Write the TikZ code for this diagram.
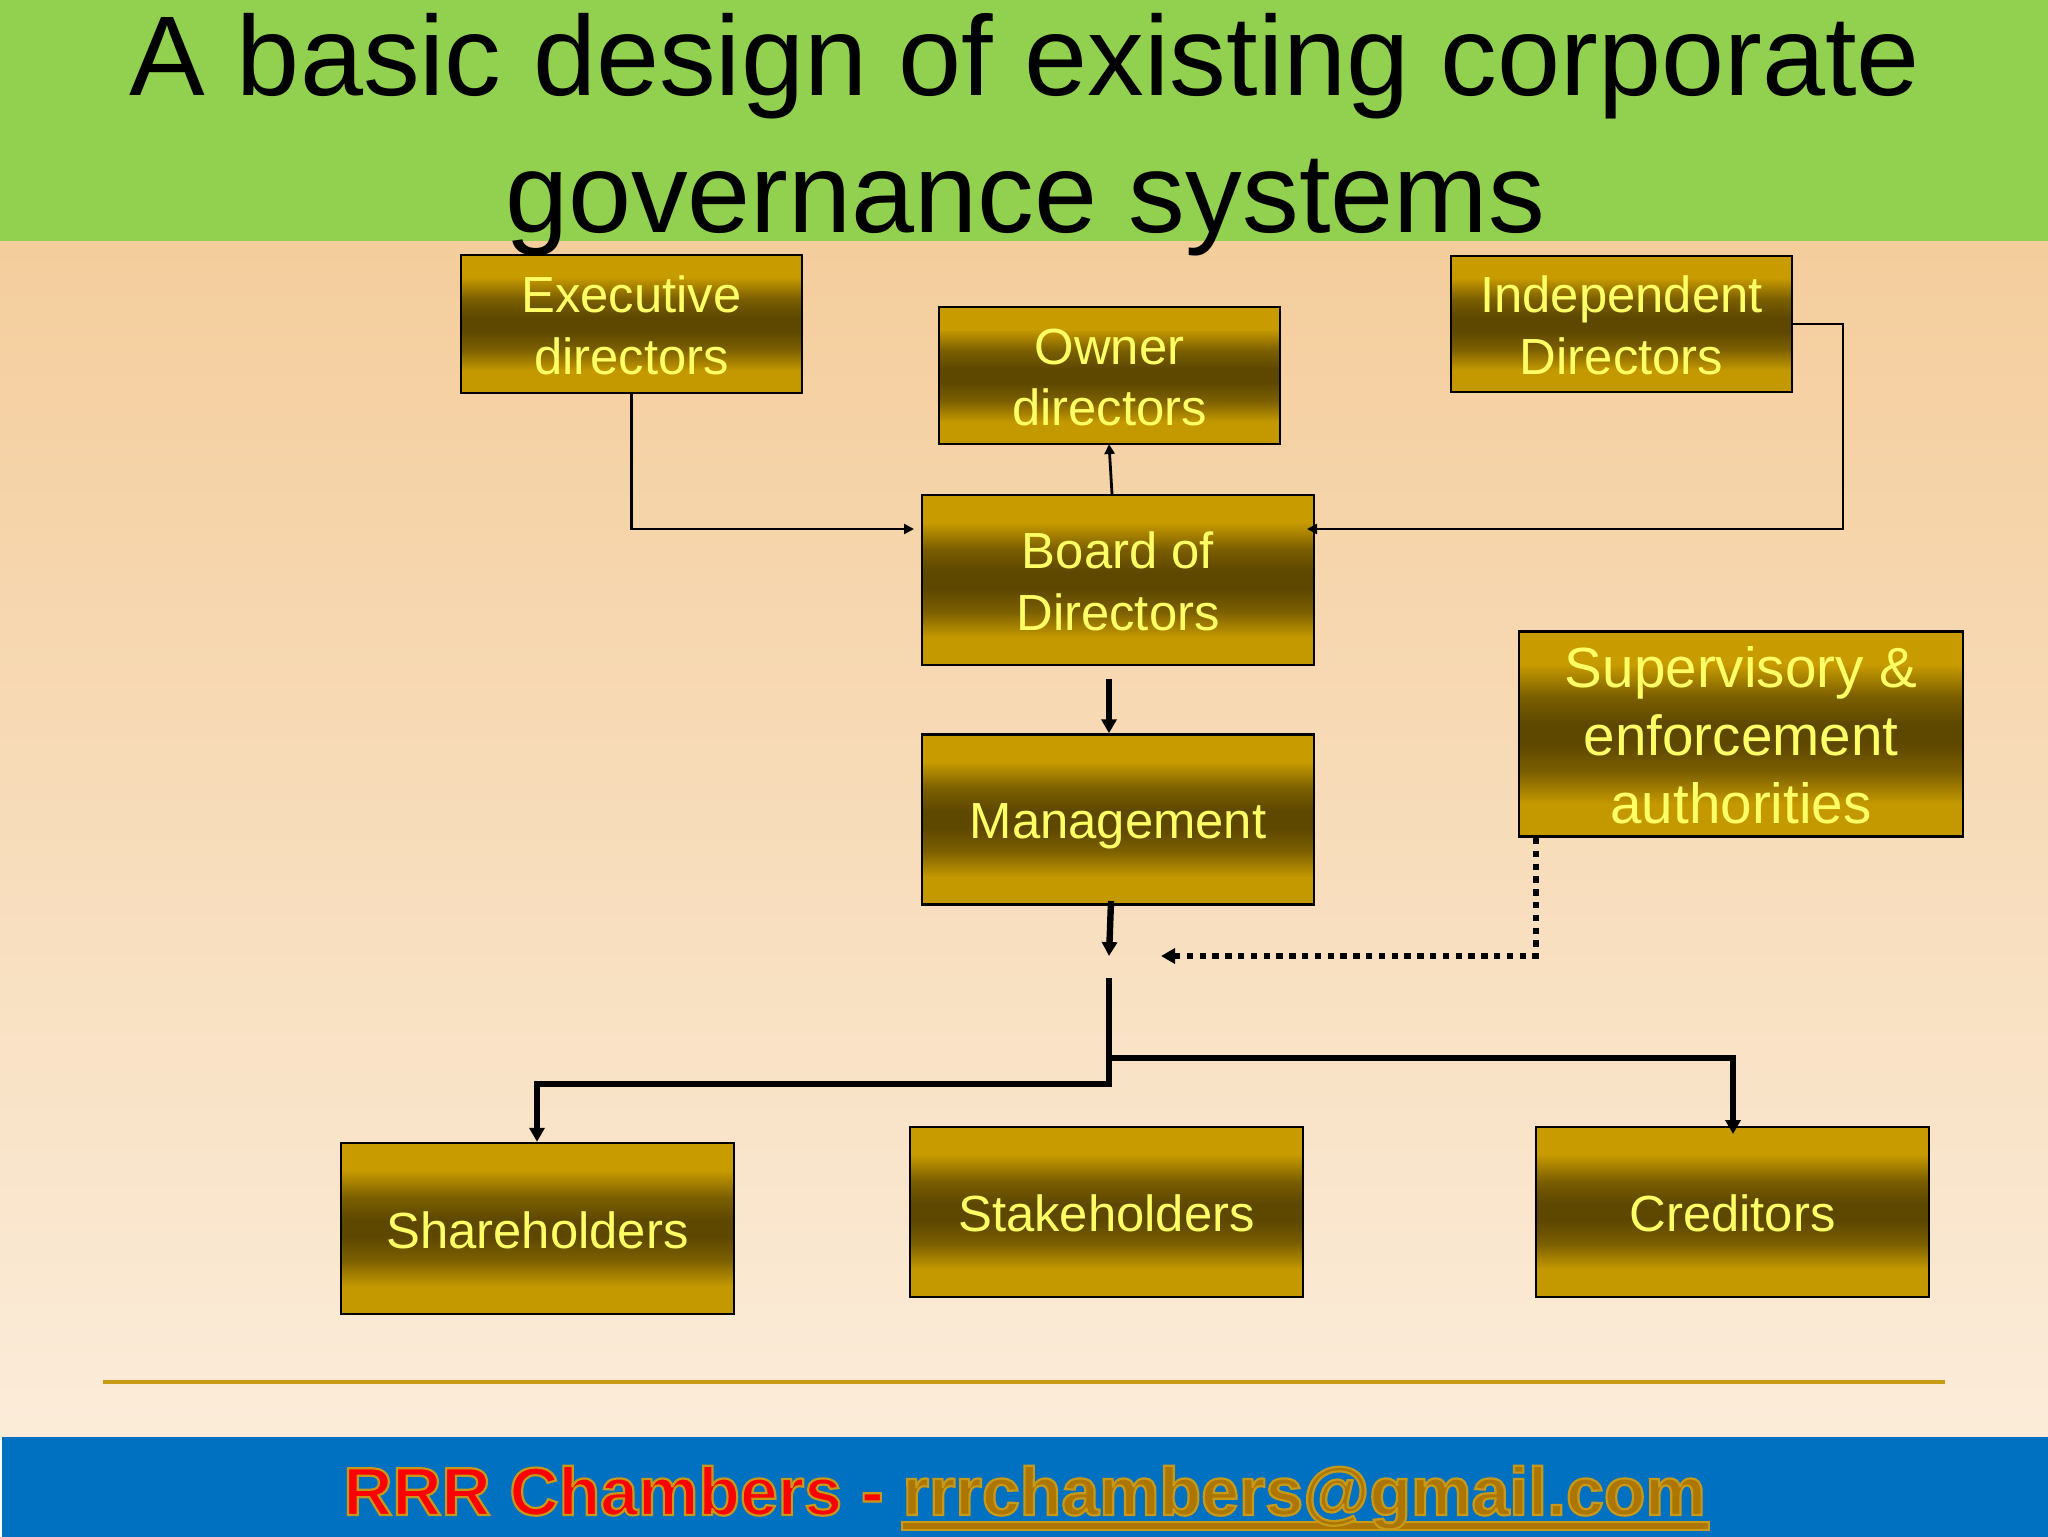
\documentclass[tikz,border=0pt]{standalone}
\usepackage{fontspec}
\setmainfont{Liberation Sans}
\usetikzlibrary{arrows.meta,calc}
\definecolor{gold}{HTML}{C89B00}
\definecolor{goldb}{HTML}{C49900}
\definecolor{dark}{HTML}{5E4800}
\definecolor{mida}{HTML}{8F6E00}
\definecolor{midb}{HTML}{7A5E00}
\definecolor{boxtext}{HTML}{FFFF66}
\definecolor{titlegreen}{HTML}{92D050}
\definecolor{bgtop}{HTML}{F4CD9C}
\definecolor{bgbot}{HTML}{FBECD9}
\definecolor{band}{HTML}{0070C0}
\definecolor{rulegold}{HTML}{C99A14}
\definecolor{mailcol}{HTML}{AD7600}
\pgfdeclareverticalshading{boxgrad}{100bp}{
  color(0bp)=(goldb); color(25bp)=(goldb); color(33bp)=(goldb);
  color(41bp)=(midb); color(47.5bp)=(dark); color(52.5bp)=(dark);
  color(59bp)=(midb); color(67bp)=(gold); color(75bp)=(gold); color(100bp)=(gold)}
\tikzset{
  bx/.style 2 args={draw=black,line width=1.25pt,shading=boxgrad,text=boxtext,align=center,
    inner sep=0pt,minimum width=#1*0.5pt,minimum height=#2*0.5pt,
    font=\fontsize{25.4pt}{30.7pt}\selectfont},
  thin link/.style={draw=black,line width=1.4pt,-{Triangle[length=5pt,width=5pt]}},
  thick link/.style={draw=black,line width=3.2pt,-{Triangle[length=7pt,width=7.5pt]}},
  thick line/.style={draw=black,line width=3.2pt},
  dot link/.style={draw=black,line width=3.2pt,dash pattern=on 3.2pt off 3.2pt,-{Triangle[length=7pt,width=7.5pt]}},
}
\newcommand{\outlined}[3]{\special{pdf:code 2 Tr 1.1 w #1 RG}#2\special{pdf:code 0 Tr #3}}
\newcommand{\topstrut}{\rule{0pt}{.78em}}
\begin{document}
\begin{tikzpicture}[x=0.5pt,y=-0.5pt]
\useasboundingbox (0,0) rectangle (2048,1536);
\shade[top color=bgtop,bottom color=bgbot] (0,240) rectangle (2048,1437);
\fill[titlegreen] (0,0) rectangle (2048,241);
\fill[band] (2,1437) rectangle (2052,1540);
\draw[rulegold,line width=2pt] (103,1382) -- (1945,1382);

\node[inner sep=0pt,align=center,font=\fontsize{56.7pt}{68.5pt}\selectfont,text=black] (title) at (1025,134.5)
  {A basic design of existing corporate\\governance systems};

\node[bx={341}{138}] (exec) at (631.5,324) {\topstrut Executive\\directors};
\node[bx={341}{137}] (owner) at (1109.5,375.5) {\topstrut Owner\\directors};
\node[bx={341}{136}] (indep) at (1621.5,324) {\topstrut Independent\\Directors};
\node[bx={392}{170}] (board) at (1118,580) {\topstrut Board of\\Directors};
\node[bx={392}{170}] (mgmt) at (1118,819.5) {\raisebox{-9.25pt}[0pt][0pt]{Management}};
\node[bx={444}{205},font=\fontsize{28.3pt}{34pt}\selectfont] (super) at (1741,734) {\topstrut Supervisory \&\\enforcement\\authorities};
\node[bx={393}{171}] (share) at (537.5,1228.5) {\topstrut Shareholders};
\node[bx={393}{170}] (stake) at (1106.5,1212) {\topstrut Stakeholders};
\node[bx={393}{170}] (cred) at (1732.5,1212) {\topstrut Creditors};

\coordinate (bleft) at (914,529);
\coordinate (bright) at (1307,529);
\coordinate (bcorner) at (1843,529);
\coordinate (ownertail) at (1112,494);
\coordinate (ownerhead) at (1109,444);
\coordinate (bmstart) at (1109,679);
\coordinate (mgstart) at (1111,901);
\coordinate (mgend) at (1109,956);
\coordinate (dotstart) at (1536,838);
\coordinate (dotcorner) at (1536,956);
\coordinate (dotend) at (1161,956);
\coordinate (trunktop) at (1109,978);
\coordinate (sharecorner) at (1109,1084);
\coordinate (credbranch) at (1109,1058);
\coordinate (credcorner) at (1733,1058);
\coordinate (credend) at (1733,1134);
\coordinate (shareturn) at (537,1084);

\draw[thin link] (exec.south) |- (bleft);
\draw[thin link] (indep.east) -| (bcorner) -- (bright);
\draw[thin link] (ownertail) -- (ownerhead);
\draw[thick link] (bmstart) -- (bmstart |- mgmt.north);
\draw[thick link] (mgstart) -- (mgend);
\draw[dot link] (dotstart) -- (dotcorner) -- (dotend);
\draw[thick line] (trunktop) -- ($(sharecorner)+(0,3)$);
\draw[thick link] (sharecorner) -- (shareturn) -- (shareturn |- share.north);
\draw[thick link] (credbranch) -- (credcorner) -- (credend);

\fill[mailcol,draw=rulegold,line width=0.8pt] (902,1522) rectangle (1709,1530);
\node[inner sep=0pt,anchor=base west,font=\fontsize{34pt}{40pt}\selectfont\bfseries] (foot) at (343,1515)
  {\color{red}\outlined{0.78 0.6 0.1}{RRR Chambers - }{}\color{mailcol}\outlined{0.78 0.6 0.1}{rrrchambers@gmail.com}{}};
\end{tikzpicture}
\end{document}
